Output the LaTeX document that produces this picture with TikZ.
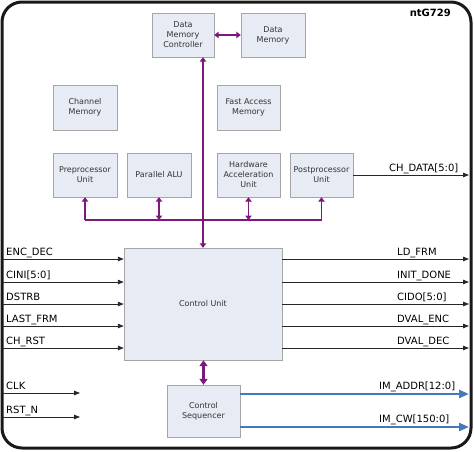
\documentclass[tikz,border=0pt]{standalone}
\usepackage{fontspec}
\setmainfont{DejaVu Sans}
\usetikzlibrary{arrows.meta}

\definecolor{boxfill}{RGB}{230,235,244}
\definecolor{boxline}{RGB}{165,165,165}
\definecolor{buspurple}{RGB}{125,25,125}
\definecolor{outblue}{RGB}{70,120,190}

\begin{document}
\begin{tikzpicture}[
    x=1pt, y=-1pt,
    every node/.style={align=center},
    ptip/.tip={Triangle[length=4.5pt, width=6.5pt]},
    block/.style={rectangle, draw=boxline, fill=boxfill, inner sep=0pt, minimum width=63pt, minimum height=44pt, font=\fontsize{8}{10}\selectfont, text=black!80},
    chipframe/.style={rectangle, draw=black!90, line width=3pt, rounded corners=20pt, minimum width=469pt, minimum height=446pt},
    sig/.style={-{Triangle[length=6pt, width=4.5pt]}, line width=0.9pt, draw=black!85},
    wide/.style={-{Triangle[length=10pt, width=8pt]}, line width=2.6pt, draw=outblue},
    bus/.style={line width=1.8pt, draw=buspurple},
    lbl/.style={font=\fontsize{10}{12}\selectfont, inner sep=0pt, anchor=base west}
]
    \useasboundingbox (0,0) rectangle (474,451);

    % Chip outline and name
    \node[chipframe] (chip) at (236.5,225) {};
    \node[font=\bfseries\fontsize{10}{12}\selectfont, inner sep=0pt, anchor=north east] (title) at (451,9) {ntG729};

    % Blocks - memories, units, control
    \node[block, minimum width=62pt] (dmc) at (183,35) {Data\\Memory\\Controller};
    \node[block, minimum width=64pt, right of=dmc, node distance=90pt] (dmem) {Data\\Memory};
    \node[block, minimum width=64pt, minimum height=45pt] (chmem) at (85,107.5) {Channel\\Memory};
    \node[block, minimum height=45pt] (fam) at (248.5,107.5) {Fast Access\\Memory};
    \node[block, minimum width=64pt] (pre) at (85,175) {Preprocessor\\Unit};
    \node[block, minimum width=64pt] (alu) at (159,175) {Parallel ALU};
    \node[block] (hwa) at (248.5,175) {Hardware\\Acceleration\\Unit};
    \node[block] (post) at (321.5,175) {Postprocessor\\Unit};
    \node[block, minimum width=158pt, minimum height=112pt] (cu) at (203,304) {Control Unit};
    \node[block, minimum width=73pt, minimum height=52pt] (seq) at (203.5,411) {Control\\Sequencer};

    % Purple bus between units, memory and control
    \coordinate (busy) at (0,220);
    \draw[bus, {ptip}-{ptip}] (dmc) -- (dmem);
    \draw[bus, {ptip}-{ptip}] (cu.north) -- (cu.north |- dmc.south);
    \draw[bus] (pre.south |- busy) -- (post.south |- busy);
    \draw[bus, -{ptip}] (pre.south |- busy) -- (pre.south);
    \draw[bus, {ptip}-{ptip}] (alu.south |- busy) -- (alu.south);
    \draw[bus, {ptip}-{ptip}] (hwa.south |- busy) -- (hwa.south);
    \draw[bus, -{ptip}] (post.south |- busy) -- (post.south);
    \draw[bus, line width=3pt, {Triangle[length=6pt, width=8pt]}-{Triangle[length=6pt, width=8pt]}] (cu.south -| seq.north) -- (seq.north);

    % Inputs
    \coordinate (encdec) at (2,259);
    \coordinate (cini) at (2,282);
    \coordinate (dstrb) at (2,304);
    \coordinate (lastfrm) at (2,326);
    \coordinate (chrst) at (2,348);
    \coordinate (clk) at (2,393);
    \coordinate (rstn) at (2,417);
    \draw[sig] (encdec) -- (encdec -| cu.west);
    \draw[sig] (cini) -- (cini -| cu.west);
    \draw[sig] (dstrb) -- (dstrb -| cu.west);
    \draw[sig] (lastfrm) -- (lastfrm -| cu.west);
    \draw[sig] (chrst) -- (chrst -| cu.west);
    \draw[sig] (clk) -- (80,393);
    \draw[sig] (rstn) -- (80,417);
    \node[lbl] (encdeclbl) at (6,255.5) {ENC\_DEC};
    \node[lbl] (cinilbl) at (6,278.5) {CINI[5:0]};
    \node[lbl] (dstrblbl) at (6,300.5) {DSTRB};
    \node[lbl] (lastfrmlbl) at (6,322.5) {LAST\_FRM};
    \node[lbl] (chrstlbl) at (6,344.5) {CH\_RST};
    \node[lbl] (clklbl) at (6,389.5) {CLK};
    \node[lbl] (rstnlbl) at (6,413.5) {RST\_N};

    % Outputs
    \coordinate (ldfrm) at (469,259);
    \coordinate (initdone) at (469,282);
    \coordinate (cido) at (469,304);
    \coordinate (dvalenc) at (469,326);
    \coordinate (dvaldec) at (469,348);
    \coordinate (chdata) at (469,175);
    \coordinate (imaddr) at (469,394);
    \coordinate (imcw) at (469,427);
    \draw[sig] (cu.east |- ldfrm) -- (ldfrm);
    \draw[sig] (cu.east |- initdone) -- (initdone);
    \draw[sig] (cu.east |- cido) -- (cido);
    \draw[sig] (cu.east |- dvalenc) -- (dvalenc);
    \draw[sig] (cu.east |- dvaldec) -- (dvaldec);
    \draw[sig] (post.east) -- (chdata);
    \draw[wide] (seq.east |- imaddr) -- (imaddr);
    \draw[wide] (seq.east |- imcw) -- (imcw);
    \node[lbl] (ldfrmlbl) at (397,255.5) {LD\_FRM};
    \node[lbl] (initdonelbl) at (397,278.5) {INIT\_DONE};
    \node[lbl] (cidolbl) at (397,300.5) {CIDO[5:0]};
    \node[lbl] (dvalenclbl) at (397,322.5) {DVAL\_ENC};
    \node[lbl] (dvaldeclbl) at (397,344.5) {DVAL\_DEC};
    \node[lbl] (chdatalbl) at (389,171.5) {CH\_DATA[5:0]};
    \node[lbl] (imaddrlbl) at (379,389.5) {IM\_ADDR[12:0]};
    \node[lbl] (imcwlbl) at (379,422.5) {IM\_CW[150:0]};

\end{tikzpicture}
\end{document}
